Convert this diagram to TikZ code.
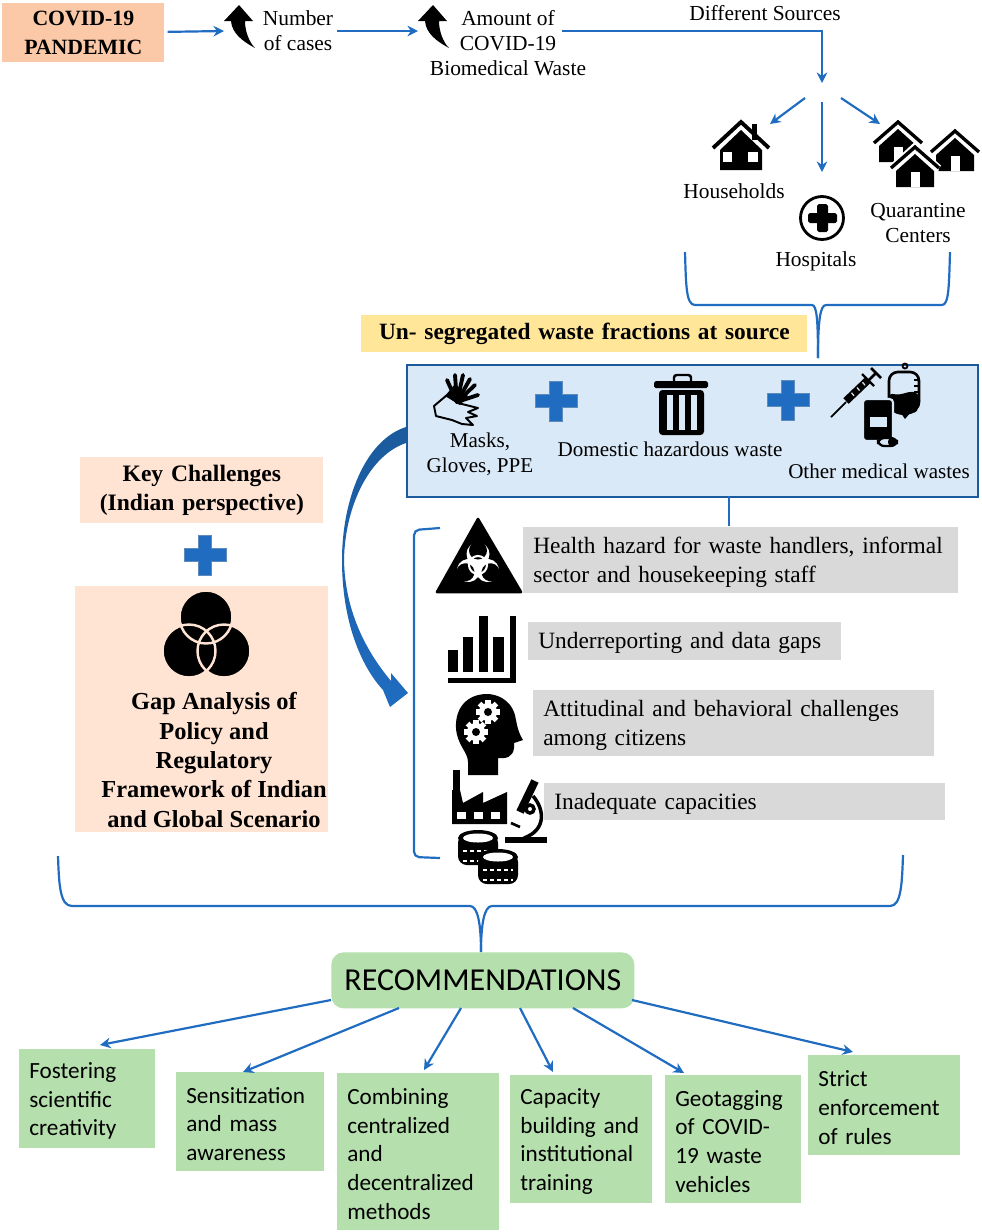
\documentclass[tikz,border=0pt]{standalone}
\usepackage{fontspec}
\setmainfont{Liberation Serif}
\newfontfamily\recfont{Carlito}
\usetikzlibrary{arrows.meta, calc}

\definecolor{linkblue}{HTML}{1F6CC0}
\definecolor{darkblue}{HTML}{1B5A9C}
\definecolor{pandemic}{HTML}{FBC9A8}
\definecolor{pale}{HTML}{FFE3D3}
\definecolor{yellowbg}{HTML}{FFE699}
\definecolor{paleblue}{HTML}{DAE9F7}
\definecolor{greybg}{HTML}{D9D9D9}
\definecolor{greenbg}{HTML}{B6DFAE}

\def\px{0.02cm}

\begin{document}
\begin{tikzpicture}[
    x=\px, y=-\px,
    % connectors
    link/.style={linkblue, line width=1.25pt, -{Stealth[length=6pt,width=6pt]}},
    brace/.style={linkblue, line width=1.25pt},
    % boxes: top left corner is the anchor
    box/.style 2 args={anchor=north west, inner xsep=10*\px, inner ysep=0pt,
        minimum width=#1*\px, minimum height=#2*\px,
        text width=#1*\px-20*\px, align=left},
    word/.style={font=\fontsize{12.2}{14.2}\selectfont, align=center},
    bword/.style={font=\fontsize{12.4}{16.2}\selectfont\bfseries, align=center},
    % the taller first line moves the text down a little
    item/.style={fill=greybg, font=\fontsize{13.3}{16.6}\selectfont,
        execute at begin node={\rule{0pt}{11.5pt}}},
    rec/.style={fill=greenbg, font=\fontsize{13.2}{16.4}\selectfont\recfont,
        execute at begin node={\rule{0pt}{11.5pt}}},
    % icons
    plus/.pic={\fill[linkblue, draw=darkblue!70, line width=0.3pt]
        (-6.5,-20) -- (6.5,-20) -- (6.5,-6.5) -- (21,-6.5) -- (21,6.5) -- (6.5,6.5)
        -- (6.5,20) -- (-6.5,20) -- (-6.5,6.5) -- (-21,6.5) -- (-21,-6.5) -- (-6.5,-6.5) -- cycle;},
    uparrow/.pic={\fill (0,0) -- (14,16) -- (6,16) .. controls (6,26) and (10,37) .. (16,43)
        .. controls (3,36) and (-7,28) .. (-8,16) -- (-15,16) -- cycle;},
    roof/.pic={\draw[line width=2.2pt] (-28,27) -- (0,1) -- (28,27);
        \fill (0,9) -- (21,29) -- (21,49) -- (-21,49) -- (-21,29) -- cycle;},
    qhouse/.pic={\draw[white, line width=3.6pt] (-24,22) -- (0,0) -- (24,22);
        \fill[white] (-5,1) -- (24,22) -- (20,42) -- (-20,42) -- (-26,22) -- cycle;
        \draw[line width=1.9pt] (-24,22) -- (0,1) -- (24,22);
        \fill (0,8) -- (19,25) -- (19,41) -- (-19,41) -- (-19,25) -- cycle;
        \fill[white] (-4.5,26) rectangle (4.5,41);},
    gear/.pic={\foreach \a in {0,45,...,315}
            \fill[white, rotate=\a] (-2.6,-12) rectangle (2.6,0);
        \fill[white] (0,0) circle (9);
        \fill (0,0) circle (4);},
    crescent/.pic={\fill[white] (0,-11) circle (11.5);
        \fill (0,-14.5) circle (9);},
    coins/.pic={\fill[rounded corners=5pt] (-20,-7) rectangle (20,24);
        \fill (0,-3) ellipse (20 and 8);
        \fill[white] (0,-3) ellipse (15 and 4.5);
        \draw[white, line width=1.4pt, dash pattern=on 2pt off 2pt] (-15,10) -- (15,10);
        \draw[white, line width=1.4pt, dash pattern=on 2pt off 2pt] (-15,20) -- (15,20);}
]
\useasboundingbox (0,0) rectangle (982,1232);

% --- TOP ROW ---
\node[box={162}{59}, fill=pandemic, bword, text centered] (covid) at (2,3) {COVID-19\\PANDEMIC};
\pic at (239,5) {uparrow};
\pic at (433,5) {uparrow};
\node[word] (cases) at (298,31) {Number\\of cases};
\node[word] (amount) at (508,43) {Amount of\\COVID-19\\Biomedical Waste};
\node[word] (sources) at (765,13) {Different Sources};
\coordinate (up1) at (224,31);
\coordinate (up2) at (418,31);
\coordinate (amountend) at (562,31);
\coordinate (fork) at (822,83);
\draw[link] (covid.east) ++(3,-1) -- (up1);
\draw[link] (cases.east) ++(-2,0) -- (up2);
\draw[link] (amountend) -| (fork);

% --- SOURCES ---
\coordinate (fl) at (805,98);
\coordinate (fm) at (822,102);
\coordinate (fr) at (841,98);
\coordinate (hl) at (770,124);
\coordinate (hm) at (822,172);
\coordinate (hr) at (880,124);
\draw[link] (fl) -- (hl);
\draw[link] (fm) -- (hm);
\draw[link] (fr) -- (hr);

\pic at (741,121) {roof};
\fill (752,124) rectangle (757,140); % chimney
\fill[white] (723,152) rectangle (732,162);
\fill[white] (748,152) rectangle (758,162);
\pic at (898,121) {qhouse};
\pic at (955,130) {qhouse};
\pic at (915,146) {qhouse};
\draw[line width=1.6pt] (822,218) circle (21.5);
\fill[rounded corners=1pt] (817,204) rectangle (828,232);
\fill[rounded corners=1pt] (808,213) rectangle (837,223);

\node[word] (house) at (734,191) {Households};
\node[word] (hosp) at (816,261) {Hospitals};
\node[word] (quar) at (918,223) {Quarantine\\Centers};

\draw[brace] (685,252) .. controls (686,285) and (686,305) .. (695,305) -- (812,305)
    .. controls (817,305) and (818,322) .. (818,358);
\draw[brace] (950,252) .. controls (949,285) and (949,305) .. (942,305) -- (826,305)
    .. controls (820,305) and (818,322) .. (818,358);

\node[box={446}{37}, fill=yellowbg, bword, text centered,
    font=\fontsize{13.3}{15}\selectfont\bfseries] (unseg) at (361,315) {Un- segregated waste fractions at source};

% --- WASTE FRACTIONS ---
\node[box={571}{132}, fill=paleblue, draw=darkblue, line width=1.2pt] (fractions) at (406,364) {};
\pic at (556,401) {plus};
\pic at (788,400) {plus};

% gloves
\draw[fill=paleblue, line width=1.1pt, line join=round] (434,406) -- (447,395) -- (458,403)
    -- (478,408) -- (468,412) -- (477,416) -- (466,418) -- (473,425) -- (462,424)
    -- (452,420) -- (436,416) -- cycle;
\foreach \xa/\ya in {447/380,455/375,463/375,470/379,475/385,478/395}
    \draw[line width=2.2pt, line cap=round] (457,402) -- (\xa,\ya);
\fill (445,396) -- (455,384) -- (468,396) -- (460,405) -- cycle;

% dustbin
\fill[rounded corners=1pt] (654,381) rectangle (708,388);
\draw[line width=1.4pt, rounded corners=1.5pt] (674,382) -- (674,375) -- (691,375) -- (691,382);
\fill[rounded corners=2pt] (659,390) rectangle (704,435);
\foreach \xb in {667,679,691}
    \fill[paleblue] (\xb,395) rectangle ++(6,35);

% syringe, drip and bottle
\draw[line width=1pt] (831,417) -- (846,402);
\draw[line width=4.4pt] (846,401) -- (868,380);
\foreach \t in {0.25,0.5,0.75}
    \draw[paleblue, line width=0.7pt] ($(846,401)!\t!(868,380)+(0,-3)$) -- ++(2.5,3);
\draw[line width=1.4pt] (862,374) -- (874,386);
\draw[line width=1.5pt] (868,381) -- (876,373);
\draw[line width=1.6pt] (871,368) -- (881,378);
\draw[line width=1.5pt, rounded corners=5pt] (889,372) rectangle (919,411);
\fill[rounded corners=4pt] (888,392) .. controls (900,396) and (908,391) .. (920,393)
    -- (920,408) -- (912,415) -- (896,415) -- (888,408) -- cycle;
\fill (901,413) -- (910,413) -- (905,419) -- cycle;
\draw[line width=1pt] (905,366) circle (2.5);
\foreach \yt in {380,386,392}
    \draw[line width=0.8pt] (914,\yt) -- (919,\yt);
\draw[paleblue, line width=1.2pt, rounded corners=2pt, fill=black] (863,399) rectangle (893,441);
\fill[paleblue] (870,417) rectangle (887,427);
\draw[line width=1.3pt, fill=paleblue, rounded corners=3.5pt] (878,438) rectangle (897,446);
\fill[rounded corners=2pt] (888,438) rectangle (897,446);

\node[word, font=\fontsize{12}{14.2}\selectfont] (masks) at (480,454) {Masks,\\Gloves, PPE};
\node[word, font=\fontsize{12}{14.2}\selectfont] (domestic) at (670,449) {Domestic hazardous waste};
\node[word, font=\fontsize{12}{14.2}\selectfont] (other) at (879,471) {Other medical wastes};

% --- CHALLENGE LIST ---
\coordinate (topdrop) at (729,526);
\draw[brace] (729,496) -- (topdrop);
\draw[brace, rounded corners=3pt] (440,528) -- (414,530) -- (414,857) -- (440,858);

\node[box={435}{66}, item] (health) at (523,527) {Health hazard for waste handlers, informal\\sector and housekeeping staff};
\node[box={313}{38}, item] (gaps) at (528,622) {Underreporting and data gaps};
\node[box={401}{66}, item] (attitude) at (533,690) {Attitudinal and behavioral challenges\\among citizens};
\node[box={401}{37}, item] (capacity) at (544,783) {Inadequate capacities};

% biohazard sign
\fill[line join=round, draw, line width=1.5pt] (478,519) -- (521,592) -- (437,592) -- cycle;
\foreach \r in {0,120,240}
    \pic[rotate=\r] at (478,565) {crescent};
\draw[white, line width=1.2pt] (478,565) circle (9);

% bar chart
\foreach \xc/\wc/\yc in {448/10/650, 463/10/637, 479/9/616, 493/11/637}
    \fill (\xc,\yc) rectangle (\xc+\wc,672);
\fill (510,616) rectangle (516,683);
\fill (448,678) rectangle (516,683);

% head with gears
\fill (468,775) -- (498,775) -- (498,758) .. controls (506,759) and (513,757) .. (514,748)
    -- (514,743) -- (523,740) .. controls (518,732) and (517,725) .. (515,715)
    .. controls (510,698) and (495,694) .. (487,694)
    .. controls (468,694) and (455,707) .. (456,728)
    .. controls (457,745) and (468,752) .. (468,762) -- cycle;
\pic at (488,712) {gear};
\pic at (476,732) {gear};

% factory
\fill (453,770) rectangle (460,790);
\fill (452,824) -- (452,790) -- (460,790) -- (463,803) -- (483,792) -- (483,803) -- (507,792) -- (507,824) -- cycle;
\foreach \xd in {457,474,491}
    \fill[white] (\xd,812) rectangle (\xd+9,819);

% microscope
\fill (505,837) rectangle (547,843);
\draw[line width=4.5pt] (535,781) -- (520,812);
\draw[line width=2pt] (533,796) .. controls (545,810) and (546,830) .. (524,838);
\draw[fill=white, line width=2pt] (530,809) circle (4);
\draw[line width=1.5pt] (511,823) -- (520,827);

% coins
\pic at (478,841) {coins};
\pic at (498,860) {coins};

% --- LEFT COLUMN ---
\node[box={243}{66}, fill=pale, bword, text centered,
    font=\fontsize{13.4}{16}\selectfont\bfseries] (key) at (80,457) {Key Challenges\\(Indian perspective)};
\pic at (205,555) {plus};
\node[box={253}{246}, fill=pale] (gap) at (75,586) {};
\fill (206,617) circle (27) (189,651) circle (27) (224,651) circle (27);
\draw[pale, line width=1.4pt] (206,617) circle (26.5) (189,651) circle (26.5) (224,651) circle (26.5);
\node[bword, font=\fontsize{13.9}{16.7}\selectfont\bfseries] (gaptext) at (214,760)
    {Gap Analysis of\\Policy and\\Regulatory\\Framework of Indian\\and Global Scenario};

% curved arrow from the fractions box to the list
\shade[top color=darkblue, bottom color=linkblue] (406,427) .. controls (365,440) and (342,500) .. (342,560)
    .. controls (342,620) and (360,665) .. (383,690) -- (390,707) -- (408,693)
    -- (391,673) -- (391,681) .. controls (365,650) and (345,610) .. (344,560)
    .. controls (345,505) and (370,455) .. (406,443) -- cycle;

% --- RECOMMENDATIONS ---
\draw[brace] (58,856) .. controls (59,885) and (60,906) .. (72,906) -- (470,906)
    .. controls (478,906) and (481,925) .. (481,952);
\draw[brace] (903,855) .. controls (902,885) and (901,906) .. (890,906) -- (492,906)
    .. controls (484,906) and (481,925) .. (481,952);

\node[box={303}{56}, fill=greenbg, rounded corners=7pt, text centered,
    font=\fontsize{18.2}{20}\selectfont\recfont] (recs) at (331,952) {RECOMMENDATIONS};

\node[box={136}{99}, rec] (foster) at (19,1049) {Fostering\\scientific\\creativity};
\node[box={148}{99}, rec] (aware) at (176,1072) {Sensitization\\and mass\\awareness};
\node[box={162}{157}, rec] (methods) at (337,1073) {Combining\\centralized\\and\\decentralized\\methods};
\node[box={142}{128}, rec] (train) at (510,1075) {Capacity\\building and\\institutional\\training};
\node[box={136}{128}, rec] (geo) at (665,1075) {Geotagging\\of COVID-\\19 waste\\vehicles};
\node[box={152}{100}, rec] (strict) at (808,1055) {Strict\\enforcement\\of rules};

% start and end of each recommendation arrow
\foreach \xs/\ys/\xe/\ye in {331/1000/100/1045, 399/1008/243/1072, 461/1008/424/1070,
        520/1008/553/1072, 573/1008/684/1073, 632/1000/853/1052}
    \draw[link] (\xs,\ys) -- (\xe,\ye);

\end{tikzpicture}
\end{document}
